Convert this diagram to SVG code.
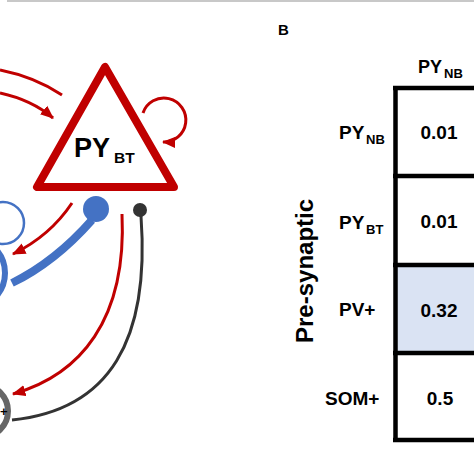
<svg xmlns="http://www.w3.org/2000/svg" width="474" height="474" viewBox="0 0 474 474">
<style>
text{font-family:"Liberation Sans",Arial,sans-serif;font-weight:bold;fill:#000}
.red{fill:none;stroke:#c00000;stroke-width:3}
.grid{stroke:#000;stroke-width:4.5;fill:none}
.val{font-size:19px;text-anchor:middle}
.lab{font-size:19px}
.sub{font-size:13px}
</style>
<defs>
<marker id="ah" viewBox="0 0 12 10" refX="11" refY="5" markerWidth="4.5" markerHeight="4" orient="auto" markerUnits="strokeWidth">
<path d="M0,0 L12,5 L0,10 Z" fill="#c00000"/>
</marker>
</defs>
<rect x="7" y="0" width="467" height="2" fill="#c8c8c8"/>

<g id="connectors">
<path class="red" d="M0,70 Q35,77 62,95"/>
<path class="red" d="M0,93 Q32,100 53,118" marker-end="url(#ah)"/>
<path class="red" d="M143,113 A22,22 0 1 1 163,142" marker-end="url(#ah)"/>
<path class="red" d="M72,203 Q50,236 13,254" marker-end="url(#ah)"/>
<path class="red" d="M122,214 C127,320 80,375 13,394" marker-end="url(#ah)"/>
<path d="M141,216 C150,340 110,410 12,420" fill="none" stroke="#333" stroke-width="3"/>
<circle cx="140" cy="210" r="7" fill="#333"/>
<path d="M12,283 Q55,262 92,220" fill="none" stroke="#4472c4" stroke-width="8"/>
<circle cx="96" cy="209" r="13" fill="#4472c4"/>
</g>

<g id="PY_BT">
<polygon points="105,67 37,187 174,187" fill="#fff" stroke="#c00000" stroke-width="8" stroke-linejoin="round"/>
<text x="74" y="157" font-size="27">PY</text>
<text x="114" y="163" font-size="15.5">BT</text>
</g>

<g id="PV">
<circle cx="3" cy="223" r="21" fill="none" stroke="#4472c4" stroke-width="2.5"/>
<circle cx="-30" cy="273" r="35" fill="#fff" stroke="#4472c4" stroke-width="6"/>
</g>

<g id="SOM">
<circle cx="-18" cy="411" r="26" fill="#fff" stroke="#666" stroke-width="6"/>
<text x="0" y="416" font-size="13">+</text>
</g>

<g id="panelB">
<text x="278" y="35" font-size="15">B</text>
<text x="418" y="73" font-size="18">PY</text>
<text x="444" y="78" class="sub">NB</text>
<rect x="397" y="267" width="77" height="84" fill="#dae3f3"/>
<path class="grid" d="M395.5,86 V442 M393,88 H474 M393,176 H474 M393,265 H474 M393,353 H474 M393,440 H474"/>
<text x="339" y="139" class="lab">PY</text><text x="366" y="144" class="sub">NB</text>
<text x="339" y="229" class="lab">PY</text><text x="366" y="234" class="sub">BT</text>
<text x="339" y="316" class="lab">PV+</text>
<text x="325" y="405" class="lab">SOM+</text>
<text x="439" y="139" class="val">0.01</text>
<text x="439" y="228" class="val">0.01</text>
<text x="439" y="317" class="val">0.32</text>
<text x="440" y="405" class="val">0.5</text>
<text transform="translate(313,343) rotate(-90)" font-size="24">Pre-synaptic</text>
</g>
</svg>
